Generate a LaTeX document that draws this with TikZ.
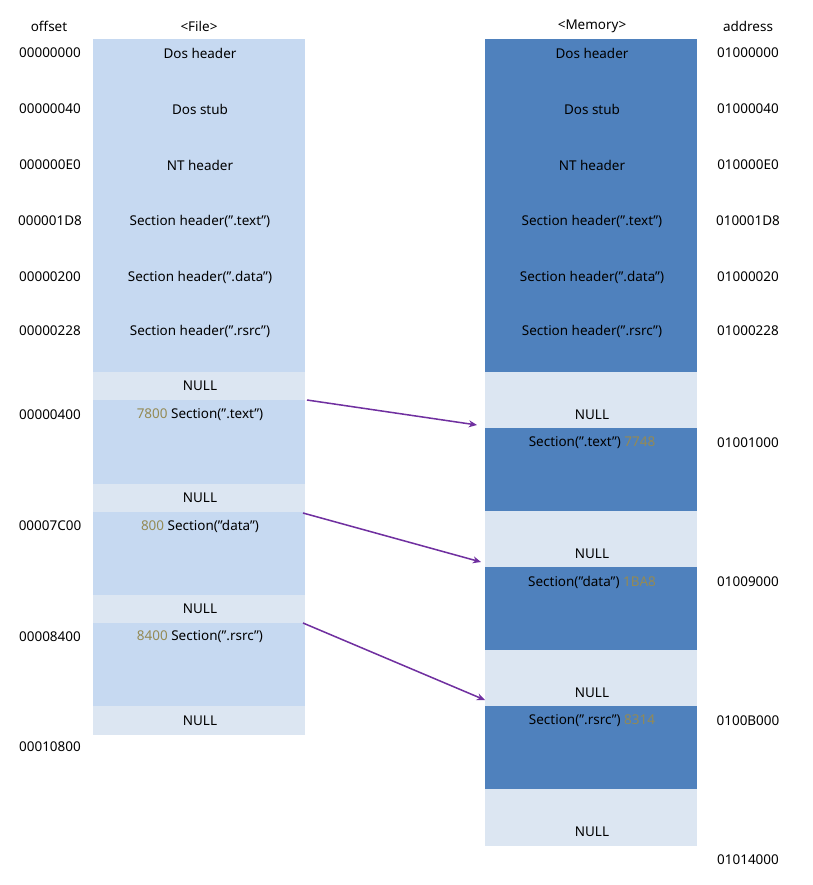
\documentclass[tikz,border=0pt]{standalone}
\usepackage{fontspec}
\setmainfont{Noto Sans}
\usetikzlibrary{arrows.meta}
\begin{document}
\begin{tikzpicture}[x=0.03cm,y=-0.03cm,
  lb/.style={fill=lightb,draw=none},
  nb/.style={fill=nullb,draw=none},
  db/.style={fill=darkb,draw=none},
  t/.style={font=\fontsize{11.5}{13}\selectfont,inner sep=0},
  num/.style={text=numc},
  arr/.style={draw=arrc,line width=1.3pt,-{Stealth[length=7pt,width=6pt]}}]
\definecolor{lightb}{HTML}{C6D9F1}
\definecolor{nullb}{HTML}{DCE6F2}
\definecolor{darkb}{HTML}{4F81BD}
\definecolor{numc}{HTML}{948A54}
\definecolor{arrc}{HTML}{7030A0}
\useasboundingbox (0,0) rectangle (813,885);
% file column
\fill[lb] (93,39) rectangle (305,372);
\fill[nb] (93,372) rectangle (305,400);
\fill[lb] (93,400) rectangle (305,484);
\fill[nb] (93,484) rectangle (305,512);
\fill[lb] (93,512) rectangle (305,595);
\fill[nb] (93,595) rectangle (305,623);
\fill[lb] (93,623) rectangle (305,706);
\fill[nb] (93,706) rectangle (305,735);
% memory column
\fill[db] (485,39) rectangle (697,372);
\fill[nb] (485,372) rectangle (697,428);
\fill[db] (485,428) rectangle (697,511);
\fill[nb] (485,511) rectangle (697,567);
\fill[db] (485,567) rectangle (697,650);
\fill[nb] (485,650) rectangle (697,706);
\fill[db] (485,706) rectangle (697,789);
\fill[nb] (485,789) rectangle (697,846);
% titles
\node[t] (h1) at (49,26) {offset};
\node[t] (h2) at (199,26) {<File>};
\node[t] (h3) at (592,26) {<Memory>};
\node[t] (h4) at (748,26) {address};
% file labels
\foreach \y/\s [count=\i] in {53/Dos header,109/Dos stub,165/NT header,221/{Section header(".text")},277/{Section header(".data")},331/{Section header(".rsrc")}}{
  \node[t] (f\i) at (200,\y) {\s};
  \node[t] (m\i) at (592,\y) {\s};
}
\foreach \y/\s [count=\i] in {53/00000000,109/00000040,165/000000E0,221/000001D8,277/00000200,331/00000228,415/00000400,526/00007C00,637/00008400,747/00010800}
  \node[t] (o\i) at (50,\y) {\s};
\foreach \y/\s [count=\i] in {53/01000000,109/01000040,165/010000E0,221/010001D8,277/01000020,331/01000228,443/01001000,582/01009000,721/0100B000,860/01014000}
  \node[t] (a\i) at (748,\y) {\s};
\foreach \y [count=\i] in {386,498,609,721} \node[t] (fn\i) at (200,\y) {NULL};
\foreach \y [count=\i] in {415,554,693,832} \node[t] (mn\i) at (592,\y) {NULL};
\node[t] (fs1) at (200,415) {\textcolor{numc}{7800} Section(".text")};
\node[t] (fs2) at (200,526) {\textcolor{numc}{800} Section("data")};
\node[t] (fs3) at (200,637) {\textcolor{numc}{8400} Section(".rsrc")};
\node[t] (ms1) at (592,443) {Section(".text") \textcolor{numc}{7748}};
\node[t] (ms2) at (592,582) {Section("data") \textcolor{numc}{1BA8}};
\node[t] (ms3) at (592,721) {Section(".rsrc") \textcolor{numc}{8314}};
% arrows
\coordinate (s1) at (307,400); \coordinate (e1) at (477,425);
\coordinate (s2) at (303,513); \coordinate (e2) at (481,562);
\coordinate (s3) at (303,623); \coordinate (e3) at (485,700);
\draw[arr] (s1) -- (e1);
\draw[arr] (s2) -- (e2);
\draw[arr] (s3) -- (e3);
\end{tikzpicture}
\end{document}
